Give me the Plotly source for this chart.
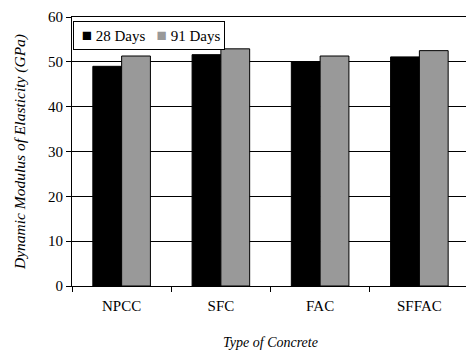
import plotly.graph_objects as go

categories = ["NPCC", "SFC", "FAC", "SFFAC"]
days28 = [49.0, 51.6, 50.0, 51.1]
days91 = [51.3, 52.9, 51.3, 52.5]
series_names = ["28 Days", "91 Days"]
series_colors = ["black", "#999999"]

font = "Liberation Serif, Times New Roman, serif"

fig = go.Figure()
for vals, name, col in zip([days28, days91], series_names, series_colors):
    fig.add_trace(go.Bar(x=categories, y=vals, name=name, showlegend=False,
                         marker=dict(color=col, line=dict(color="black", width=1))))

legend_text = "&nbsp;" + "&nbsp;&nbsp;&nbsp;".join(
    f"<span style='color:{c};font-size:17px'>■</span> {n}" for n, c in zip(series_names, series_colors)
)

fig.add_annotation(
    text=legend_text, xref="paper", yref="paper", x=0.003, y=0.985,
    xanchor="left", yanchor="top", showarrow=False, align="left",
    font=dict(family=font, size=15, color="black"),
    bgcolor="white", bordercolor="black", borderwidth=1, borderpad=4,
)

fig.update_layout(
    width=466, height=350,
    margin=dict(l=64, r=5, t=9, b=72),
    paper_bgcolor="white", plot_bgcolor="white",
    font=dict(family=font, size=15, color="black"),
    barmode="group", bargap=0.42, bargroupgap=0,
    showlegend=False,
    xaxis=dict(
        title=dict(text="<i>Type of Concrete</i>", font=dict(family=font, size=14), standoff=24),
        automargin=False,
        showline=True, linecolor="black", linewidth=1, mirror=True,
        ticks="outside", tickson="boundaries", ticklen=5, tickcolor="black",
        ticklabelstandoff=6,
        tickfont=dict(family=font, size=15),
    ),
    yaxis=dict(
        title=dict(text="<i>Dynamic Modulus of Elasticity (GPa)</i>", font=dict(family=font, size=15.5), standoff=18),
        automargin=False,
        range=[0, 60], dtick=10,
        showline=True, linecolor="black", linewidth=1, mirror=True,
        ticks="outside", ticklen=5, tickcolor="black",
        showgrid=True, gridcolor="black", gridwidth=1,
        zeroline=False,
        tickfont=dict(family=font, size=15),
    ),
)

fig.write_html("out.html")
